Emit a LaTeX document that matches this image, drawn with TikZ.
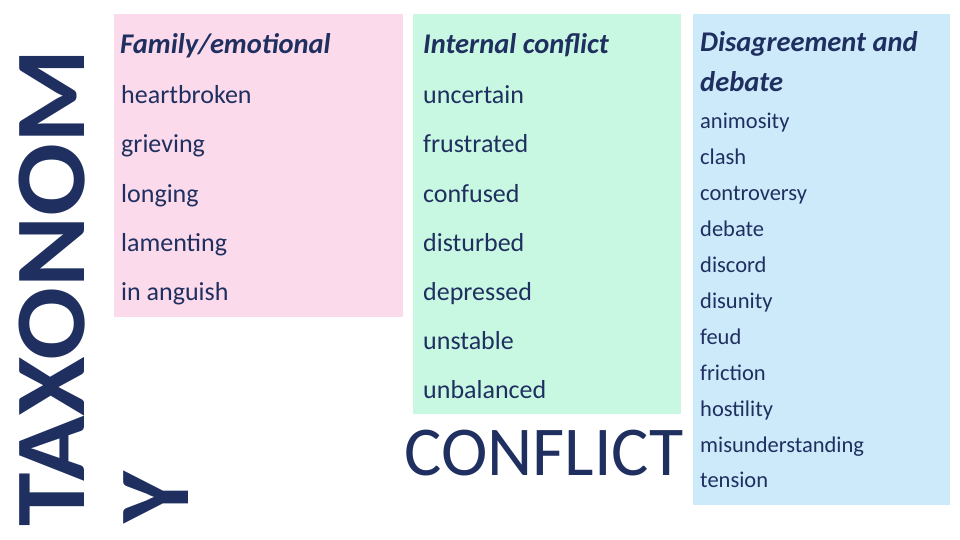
\documentclass[tikz,border=0pt]{standalone}
\usepackage{fontspec}
\setmainfont{Carlito}
\definecolor{navy}{HTML}{1F2F5F}
\definecolor{pinkbg}{HTML}{FBDAEC}
\definecolor{greenbg}{HTML}{C9F8E2}
\definecolor{bluebg}{HTML}{CDEAFB}
\tikzset{
 item/.style={anchor=base west,text=navy,font=\fontsize{26}{26}\selectfont,inner sep=0},
 bitem/.style={anchor=base west,text=navy,font=\fontsize{22.5}{22.5}\selectfont,inner sep=0},
 head/.style={anchor=base west,text=navy,font=\fontsize{28.5}{28.5}\selectfont\bfseries\itshape,inner sep=0},
 big/.style={text=navy,inner sep=0}
}
\begin{document}
\begin{tikzpicture}[x=1pt,y=-1pt]
\useasboundingbox (0,0) rectangle (960,540);
\fill[pinkbg] (114,14) rectangle (403,317);
\fill[greenbg] (413,14) rectangle (681,414);
\fill[bluebg] (693,14) rectangle (950,505);
\node[big,rotate=90,font=\fontsize{100}{100}\selectfont\bfseries,xscale=1.08] (tax) at (52,288) {TAXONOM};
\node[big,rotate=90,font=\fontsize{100}{100}\selectfont\bfseries] (y) at (156,498) {Y};
\node[big,font=\fontsize{70}{70}\selectfont] (conf) at (544,453) {CONFLICT};
\node[head] (h1) at (120,54) {Family/emotional};
\foreach \t [count=\i] in {heartbroken,grieving,longing,lamenting,in anguish}
  \node[item] (p\i) at (121,55+49*\i) {\t};
\node[head] (h2) at (423,54) {Internal conflict};
\foreach \t [count=\i] in {uncertain,frustrated,confused,disturbed,depressed,unstable,unbalanced}
  \node[item] (g\i) at (423,55+49*\i) {\t};
\node[head] (h3) at (700,52) {Disagreement and};
\node[head] (h3b) at (700,92) {debate};
\foreach \t [count=\i] in {animosity,clash,controversy,debate,discord,disunity,feud,friction,hostility,misunderstanding,tension}
  \node[bitem] (b\i) at (700,93+35.9*\i) {\t};
\end{tikzpicture}
\end{document}
